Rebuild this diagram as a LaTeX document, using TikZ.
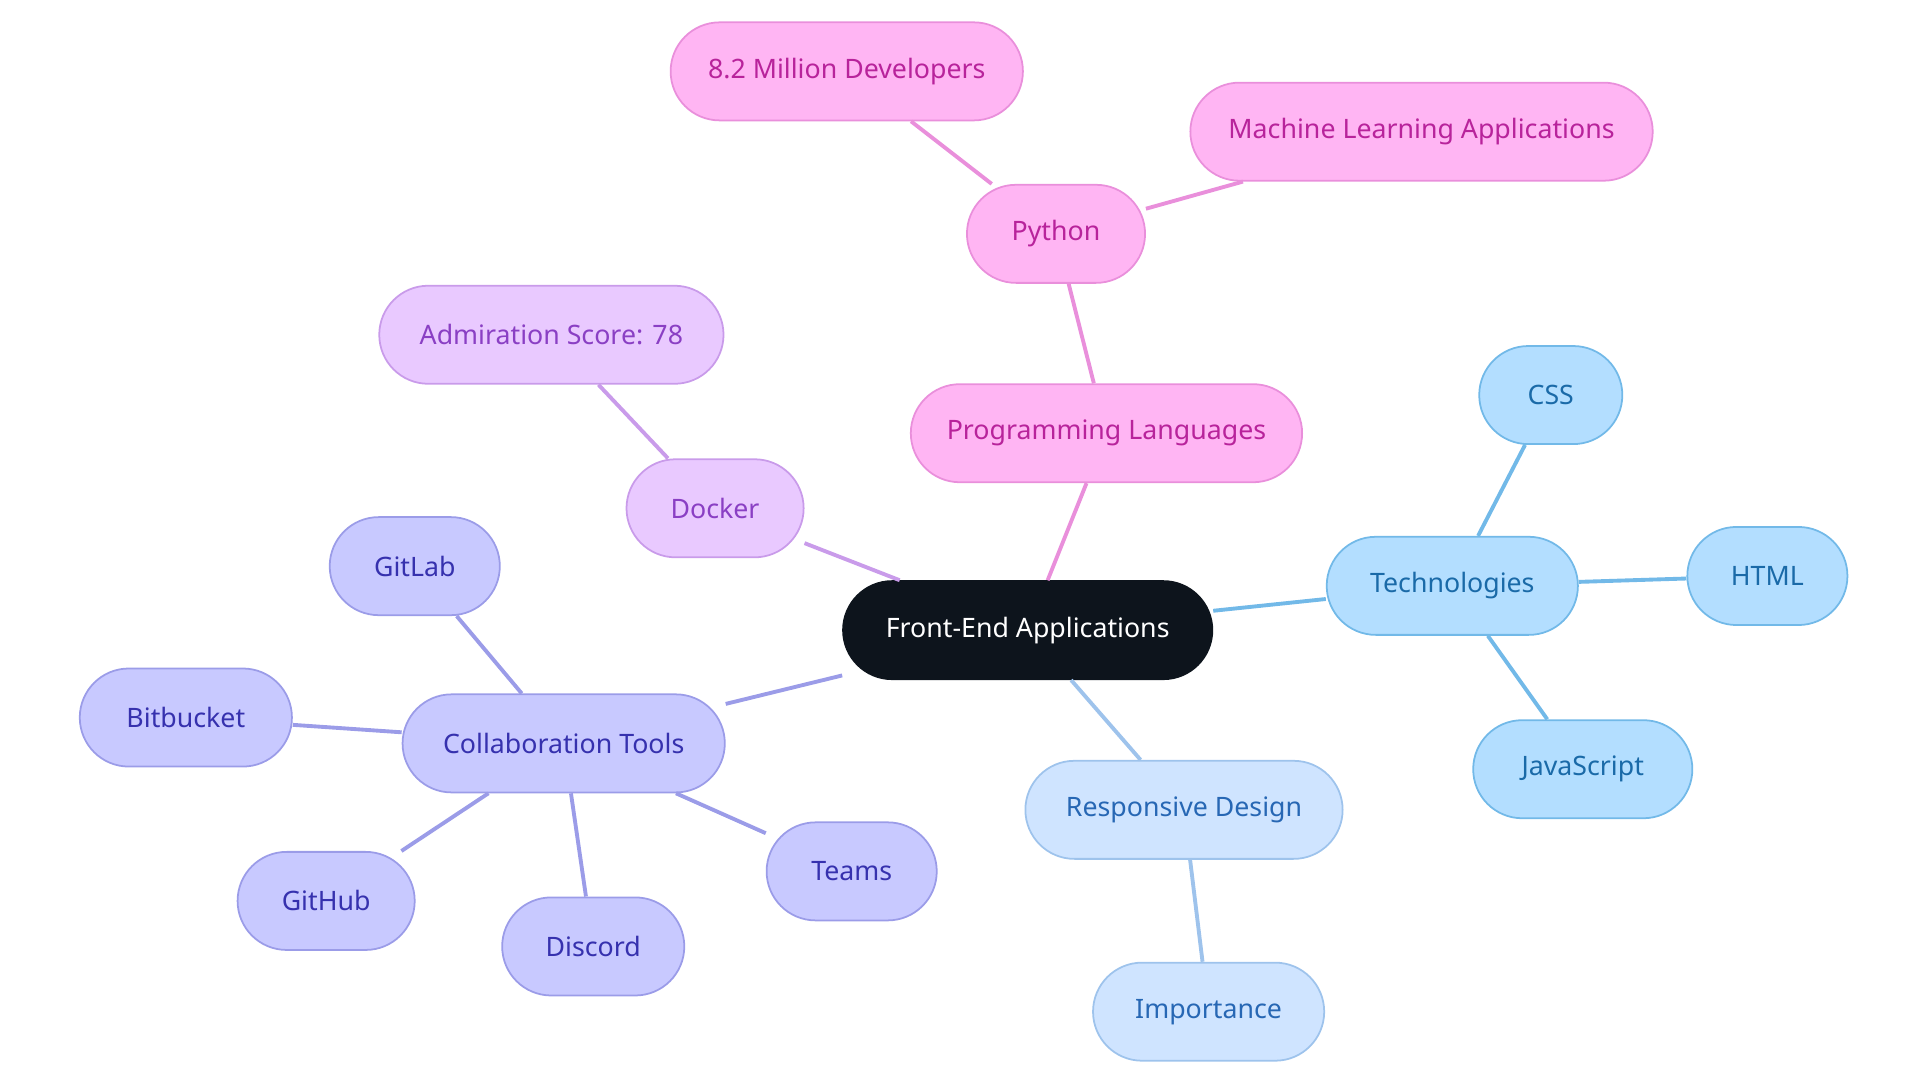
\documentclass[tikz,border=0pt]{standalone}
\usepackage{fontspec}
\setmainfont{Noto Sans}
\definecolor{pinkF}{HTML}{FFB5F3}\definecolor{pinkD}{HTML}{E98FDB}\definecolor{pinkT}{HTML}{B8239B}
\definecolor{lilF}{HTML}{E9C9FF}\definecolor{lilD}{HTML}{C99BEA}\definecolor{lilT}{HTML}{8A3FC4}
\definecolor{purF}{HTML}{C8C9FF}\definecolor{purD}{HTML}{9B9CE8}\definecolor{purT}{HTML}{3631AE}
\definecolor{bluF}{HTML}{B3DEFF}\definecolor{bluD}{HTML}{72B9E8}\definecolor{bluT}{HTML}{1A6AA8}
\definecolor{palF}{HTML}{CFE4FF}\definecolor{palD}{HTML}{9EC3EC}\definecolor{palT}{HTML}{2767B4}
\definecolor{rootF}{HTML}{0D141C}
\tikzset{
  box/.style={rounded corners=0.49cm, minimum height=0.98cm, inner xsep=0.3cm, font=\fontsize{7.6}{9}\selectfont, line width=0.5pt},
  pinkbox/.style={box, fill=pinkF, draw=pinkD, text=pinkT},
  lilbox/.style={box, fill=lilF, draw=lilD, text=lilT},
  purbox/.style={box, fill=purF, draw=purD, text=purT},
  blubox/.style={box, fill=bluF, draw=bluD, text=bluT},
  palbox/.style={box, fill=palF, draw=palD, text=palT},
  link/.style={line width=1.1pt}
}
\begin{document}
\begin{tikzpicture}[x=0.0123cm, y=-0.0123cm]
\useasboundingbox (0,0) rectangle (1560,880);

% Nodes
\node[box, fill=rootF, draw=rootF, text=white, minimum width=3.69cm] (root) at (835,512) {Front-End Applications};

\node[pinkbox, minimum width=3.91cm] (prog) at (899,352) {Programming Languages};
\node[pinkbox, minimum width=1.78cm] (python) at (858,190) {Python};
\node[pinkbox, minimum width=3.52cm] (devs) at (688,58) {8.2 Million Developers};
\node[pinkbox, minimum width=4.62cm] (ml) at (1155,107) {Machine Learning Applications};

\node[lilbox, minimum width=1.77cm] (docker) at (581,413) {Docker};
\node[lilbox, minimum width=3.44cm] (score) at (448,272) {Admiration Score: 78};

\node[blubox, minimum width=2.51cm] (tech) at (1180,476) {Technologies};
\node[blubox, minimum width=1.43cm] (css) at (1260,321) {CSS};
\node[blubox, minimum width=1.6cm] (html) at (1436,468) {HTML};
\node[blubox, minimum width=2.19cm] (js) at (1286,625) {JavaScript};

\node[palbox, minimum width=3.17cm] (resp) at (962,658) {Responsive Design};
\node[palbox, minimum width=2.31cm] (imp) at (982,822) {Importance};

\node[purbox, minimum width=3.22cm] (collab) at (458,604) {Collaboration Tools};
\node[purbox, minimum width=1.7cm] (gitlab) at (337,460) {GitLab};
\node[purbox, minimum width=2.12cm] (bitbucket) at (151,583) {Bitbucket};
\node[purbox, minimum width=1.77cm] (github) at (265,732) {GitHub};
\node[purbox, minimum width=1.82cm] (discord) at (482,769) {Discord};
\node[purbox, minimum width=1.7cm] (teams) at (692,708) {Teams};

% Links
\draw[link, pinkD] (root) -- (prog);
\draw[link, pinkD] (prog) -- (python);
\draw[link, pinkD] (python) -- (devs);
\draw[link, pinkD] (python) -- (ml);
\draw[link, lilD] (root) -- (docker);
\draw[link, lilD] (docker) -- (score);
\draw[link, bluD] (root) -- (tech);
\draw[link, bluD] (tech) -- (css);
\draw[link, bluD] (tech) -- (html);
\draw[link, bluD] (tech) -- (js);
\draw[link, palD] (root) -- (resp);
\draw[link, palD] (resp) -- (imp);
\draw[link, purD] (root) -- (collab);
\draw[link, purD] (collab) -- (gitlab);
\draw[link, purD] (collab) -- (bitbucket);
\draw[link, purD] (collab) -- (github);
\draw[link, purD] (collab) -- (discord);
\draw[link, purD] (collab) -- (teams);
\end{tikzpicture}
\end{document}
